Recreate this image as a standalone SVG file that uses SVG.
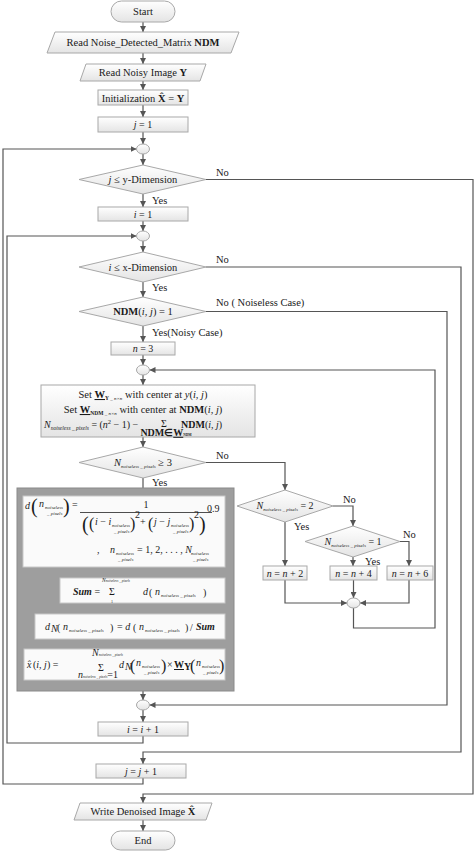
<svg xmlns="http://www.w3.org/2000/svg" width="474" height="852" viewBox="0 0 474 852">
<defs>
<linearGradient id="g" x1="0" y1="0" x2="0" y2="1"><stop offset="0" stop-color="#ffffff"/><stop offset="1" stop-color="#e4e4e4"/></linearGradient>
<marker id="a" viewBox="0 0 10 10" refX="10" refY="5" markerWidth="6" markerHeight="6" orient="auto" markerUnits="userSpaceOnUse"><path d="M0,0 L10,5 L0,10 z" fill="#555"/></marker>
<style>
.n{fill:url(#g);stroke:#a8a8a8;stroke-width:1}
.w{fill:#fafafa;stroke:#c8c8c8;stroke-width:1}
.c{fill:none;stroke:#555;stroke-width:1.2}
text{font-family:"Liberation Serif","Times New Roman",serif;font-size:10px;fill:#1a1a1a}
.l{font-size:10.5px}
.t{text-anchor:middle}
.i{font-style:italic}
.b{font-weight:bold}
.s{font-size:5px;font-style:italic}
.p{font-size:16px}
.P{font-size:20px}
</style>
</defs>
<rect width="474" height="852" fill="#ffffff"/>

<g id="connectors">
<path class="c" marker-end="url(#a)" d="M143,22V32"/>
<path class="c" marker-end="url(#a)" d="M143,53V64"/>
<path class="c" marker-end="url(#a)" d="M143,81V90"/>
<path class="c" marker-end="url(#a)" d="M143,105V117"/>
<path class="c" marker-end="url(#a)" d="M143,132V144"/>
<path class="c" marker-end="url(#a)" d="M143,154V165"/>
<path class="c" marker-end="url(#a)" d="M143,194V207"/>
<path class="c" marker-end="url(#a)" d="M143,221V231"/>
<path class="c" marker-end="url(#a)" d="M143,241V252"/>
<path class="c" marker-end="url(#a)" d="M143,282V297"/>
<path class="c" marker-end="url(#a)" d="M143,326V342"/>
<path class="c" marker-end="url(#a)" d="M143,355V365"/>
<path class="c" marker-end="url(#a)" d="M143,375V385"/>
<path class="c" marker-end="url(#a)" d="M143,437V447"/>
<path class="c" marker-end="url(#a)" d="M143,478V496"/>
<path class="c" marker-end="url(#a)" d="M143,567V578"/>
<path class="c" marker-end="url(#a)" d="M143,603V614"/>
<path class="c" marker-end="url(#a)" d="M143,639V649"/>
<path class="c" marker-end="url(#a)" d="M143,680V700"/>
<path class="c" marker-end="url(#a)" d="M143,710V722"/>
<path class="c" marker-end="url(#a)" d="M143,736V743H7V236H136.5"/>
<path class="c" marker-end="url(#a)" d="M206,267H461V752H143V764"/>
<path class="c" marker-end="url(#a)" d="M143,778V784H3V149H136.5"/>
<path class="c" marker-end="url(#a)" d="M206,179.5H473V794H143V803"/>
<path class="c" marker-end="url(#a)" d="M143,820V831"/>
<path class="c" marker-end="url(#a)" d="M206,311.5H447V705H149.5"/>
<path class="c" marker-end="url(#a)" d="M206,462.5H285V490"/>
<path class="c" marker-end="url(#a)" d="M333,506H353V526"/>
<path class="c" marker-end="url(#a)" d="M285,522V566"/>
<path class="c" marker-end="url(#a)" d="M353,557V566"/>
<path class="c" marker-end="url(#a)" d="M400,541.5H409V566"/>
<path class="c" marker-end="url(#a)" d="M285,580V603H347"/>
<path class="c" marker-end="url(#a)" d="M353.5,580V598"/>
<path class="c" marker-end="url(#a)" d="M409,580V603H360"/>
<path class="c" marker-end="url(#a)" d="M353.5,608V628H435V370H149.5"/>
<text class="l" x="216" y="176">No</text>
<text class="l" x="152" y="204">Yes</text>
<text class="l" x="216" y="263">No</text>
<text class="l" x="152" y="291">Yes</text>
<text class="l" x="216" y="306">No ( Noiseless Case)</text>
<text class="l" x="152" y="336">Yes(Noisy Case)</text>
<text class="l" x="216" y="459">No</text>
<text class="l" x="152" y="486">Yes</text>
<text class="l" x="343" y="503">No</text>
<text class="l" x="294" y="530">Yes</text>
<text class="l" x="403" y="538">No</text>
<text class="l" x="365" y="565">Yes</text>
</g>

<g id="start">
<rect class="n" x="111" y="1" width="64" height="21" rx="10.5"/>
<text class="t l" x="143" y="15">Start</text>
</g>
<g id="read-ndm">
<polygon class="n" points="55,32 239,32 231,53 47,53"/>
<text class="t l" x="143" y="46">Read Noise_Detected_Matrix <tspan class="b">NDM</tspan></text>
</g>
<g id="read-y">
<polygon class="n" points="86,64 206,64 200,81 80,81"/>
<text class="t l" x="143" y="76">Read Noisy Image <tspan class="b">Y</tspan></text>
</g>
<g id="init">
<rect class="n" x="98" y="90" width="90" height="15"/>
<text class="t l" x="143" y="101.5">Initialization <tspan class="b">X̂</tspan> = <tspan class="b">Y</tspan></text>
</g>
<g id="j1">
<rect class="n" x="98" y="117" width="90" height="15"/>
<text class="t" x="143" y="128"><tspan class="i">j</tspan> = 1</text>
</g>
<g id="merge-j">
<ellipse class="n" cx="143" cy="149" rx="6.5" ry="5"/>
</g>
<g id="cond-j">
<polygon class="n" points="143,165 206,179.5 143,194 79,179.5"/>
<text class="t l" x="143" y="183"><tspan class="i">j</tspan> ≤ y-Dimension</text>
</g>
<g id="i1">
<rect class="n" x="98" y="207" width="90" height="14"/>
<text class="t" x="143" y="218"><tspan class="i">i</tspan> = 1</text>
</g>
<g id="merge-i">
<ellipse class="n" cx="143" cy="236" rx="6.5" ry="5"/>
</g>
<g id="cond-i">
<polygon class="n" points="143,252 206,267 143,282 79,267"/>
<text class="t l" x="143" y="271"><tspan class="i">i</tspan> ≤ x-Dimension</text>
</g>
<g id="cond-ndm">
<polygon class="n" points="143,297 206,311.5 143,326 79,311.5"/>
<text class="t l" x="143" y="315"><tspan class="b">NDM</tspan>(<tspan class="i">i, j</tspan>) = 1</text>
</g>
<g id="n3">
<rect class="n" x="111" y="342" width="64" height="13"/>
<text class="t" x="143" y="352"><tspan class="i">n</tspan> = 3</text>
</g>
<g id="merge-n">
<ellipse class="n" cx="143" cy="370" rx="6.5" ry="5"/>
</g>
<g id="set-windows">
<rect class="n" x="41" y="385" width="214" height="52"/>
<text class="t l" x="143" y="398">Set <tspan class="b" text-decoration="underline">W</tspan><tspan font-size="5.5" font-weight="bold" dy="2">Y</tspan><tspan class="s"> _ n×n</tspan><tspan dy="-2"> with center at </tspan><tspan class="i">y</tspan>(<tspan class="i">i, j</tspan>)</text>
<text class="t l" x="143" y="413">Set <tspan class="b" text-decoration="underline">W</tspan><tspan font-size="5.5" font-weight="bold" dy="2">NDM</tspan><tspan class="s"> _ n×n</tspan><tspan dy="-2"> with center at </tspan><tspan class="b">NDM</tspan>(<tspan class="i">i, j</tspan>)</text>
<text x="44" y="428" font-size="11"><tspan class="i">N</tspan><tspan font-size="5.5" font-style="italic" dy="1.5">noiseless _ pixels</tspan><tspan dy="-1.5"> = (</tspan><tspan class="i">n</tspan><tspan font-size="6.5" dy="-4">2</tspan><tspan dy="4"> − 1) −</tspan></text>
<text class="t" x="164" y="426.5" font-size="12">Σ</text>
<text class="t" x="166" y="435.8" font-size="4.5" font-weight="bold">NDM∈<tspan text-decoration="underline">W</tspan><tspan font-size="3.5">NDM</tspan></text>
<text x="181" y="428" font-size="11"><tspan class="b">NDM</tspan>(<tspan class="i">i, j</tspan>)</text>
</g>
<g id="cond-n3">
<polygon class="n" points="143,447 206,462.5 143,478 79,462.5"/>
<text class="t l" x="143" y="466"><tspan class="i">N</tspan><tspan class="s" dy="1.5">noiseless _ pixels</tspan><tspan dy="-1.5"> ≥ 3</tspan></text>
</g>
<g id="weighted-filter">
<rect x="17" y="488" width="217" height="203" fill="#9e9e9e" stroke="#8a8a8a"/>
</g>
<g id="distance">
<rect class="w" x="23" y="496" width="202" height="71"/>
<text class="i" x="25" y="509" font-size="11">d</text>
<text class="P" x="31" y="513">(</text>
<text class="i" x="39" y="507">n</text>
<text class="s" x="45" y="509">noiseless</text>
<text class="s" x="47" y="515">_ pixels</text>
<text class="P" x="63" y="513">)</text>
<text x="72" y="508">=</text>
<text class="t" x="146" y="508">1</text>
<path d="M80,512.5H212" stroke="#222" stroke-width="0.8"/>
<text class="P" x="82" y="531">(</text>
<text class="p" x="89" y="529">(</text>
<text x="95" y="525"><tspan class="i">i</tspan> − <tspan class="i">i</tspan></text>
<text class="s" x="112" y="527">noiseless</text>
<text class="s" x="114" y="533">_ pixels</text>
<text class="p" x="130" y="529">)</text>
<text x="135" y="518" font-size="6">2</text>
<text x="140" y="525">+</text>
<text class="p" x="148" y="529">(</text>
<text x="154" y="525"><tspan class="i">j</tspan> − <tspan class="i">j</tspan></text>
<text class="s" x="171" y="527">noiseless</text>
<text class="s" x="173" y="533">_ pixels</text>
<text class="p" x="189" y="529">)</text>
<text x="194" y="518" font-size="6">2</text>
<text class="P" x="199" y="531">)</text>
<text x="207" y="512" font-size="6">0.9</text>
<text x="97" y="553">,</text>
<text class="i" x="110" y="553">n</text>
<text class="s" x="116" y="555">noiseless</text>
<text class="s" x="118" y="561">_ pixels</text>
<text x="137" y="553">= 1, 2, . . . , <tspan class="i">N</tspan></text>
<text class="s" x="191" y="555">noiseless</text>
<text class="s" x="193" y="561">_ pixels</text>
</g>
<g id="sum">
<rect class="w" x="60" y="578" width="165" height="25"/>
<text x="73" y="595"><tspan class="i b">Sum</tspan> =</text>
<text><tspan x="102" y="582" font-size="5.5" font-style="italic">N</tspan><tspan font-size="3.5" font-style="italic">noiseless _ pixels</tspan><tspan x="112" y="595" font-size="10" text-anchor="middle">Σ</tspan><tspan x="112" y="602.8" font-size="4" text-anchor="middle">1</tspan></text>
<text class="i" x="143" y="595">d</text>
<text x="149" y="596" font-size="13">(</text>
<text class="i" x="155" y="595">n</text>
<text class="s" x="161" y="597">noiseless _ pixels</text>
<text x="203" y="596" font-size="13">)</text>
</g>
<g id="normalize">
<rect class="w" x="35" y="614" width="190" height="25"/>
<text class="i" x="45" y="630">d</text>
<text x="51" y="632" font-size="5.5" font-style="italic">N</text>
<text x="57" y="631" font-size="13">(</text>
<text class="i" x="63" y="630">n</text>
<text class="s" x="69" y="632">noiseless _ pixels</text>
<text x="110" y="631" font-size="13">)</text>
<text x="117" y="630">= <tspan class="i">d</tspan></text>
<text x="133" y="631" font-size="13">(</text>
<text class="i" x="139" y="630">n</text>
<text class="s" x="145" y="632">noiseless _ pixels</text>
<text x="185" y="631" font-size="13">)</text>
<text x="190" y="631" font-size="13">/</text>
<text class="i b" x="196" y="630">Sum</text>
</g>
<g id="estimate">
<rect class="w" x="24" y="649" width="201" height="31"/>
<text class="i" x="27" y="668">x̂</text>
<text x="33" y="668">(<tspan class="i">i, j</tspan>) =</text>
<text class="t" x="101" y="671" font-size="17">Σ</text>
<text x="92" y="656" font-size="5.5" font-style="italic">N<tspan font-size="3.5">noiseless _ pixels</tspan></text>
<text x="78" y="678" font-size="5" font-style="italic">n<tspan font-size="3.5">noiseless _ pixels</tspan><tspan font-style="normal">=1</tspan></text>
<text class="i" x="119" y="668">d</text>
<text x="125" y="670" font-size="5.5" font-style="italic">N</text>
<text class="p" x="130" y="671">(</text>
<text class="i" x="136" y="666">n</text>
<text class="s" x="142" y="668">noiseless</text>
<text class="s" x="144" y="674">_ pixels</text>
<text class="p" x="161" y="671">)</text>
<text x="167" y="668">×</text>
<text x="174" y="668" class="b" text-decoration="underline">W</text>
<text x="184" y="670" font-size="5.5" font-weight="bold">Y</text>
<text class="p" x="190" y="671">(</text>
<text class="i" x="196" y="666">n</text>
<text class="s" x="202" y="668">noiseless</text>
<text class="s" x="203" y="674">_ pixels</text>
<text class="p" x="219" y="671">)</text>
</g>
<g id="cond-n2">
<polygon class="n" points="285,490 333,506 285,522 237,506"/>
<text class="t" x="285" y="509"><tspan class="i">N</tspan><tspan class="s" dy="1.5">noiseless _ pixels</tspan><tspan dy="-1.5"> = 2</tspan></text>
</g>
<g id="cond-n1">
<polygon class="n" points="353,526 400,541.5 353,557 305,541.5"/>
<text class="t" x="353" y="545"><tspan class="i">N</tspan><tspan class="s" dy="1.5">noiseless _ pixels</tspan><tspan dy="-1.5"> = 1</tspan></text>
</g>
<g id="n-plus-2">
<rect class="n" x="263" y="566" width="44" height="14"/>
<text class="t" x="285" y="576.5"><tspan class="i">n</tspan> = <tspan class="i">n</tspan> + 2</text>
</g>
<g id="n-plus-4">
<rect class="n" x="330" y="566" width="47" height="14"/>
<text class="t" x="353.5" y="576.5"><tspan class="i">n</tspan> = <tspan class="i">n</tspan> + 4</text>
</g>
<g id="n-plus-6">
<rect class="n" x="387" y="566" width="46" height="14"/>
<text class="t" x="410" y="576.5"><tspan class="i">n</tspan> = <tspan class="i">n</tspan> + 6</text>
</g>
<g id="merge-step">
<ellipse class="n" cx="353.5" cy="603" rx="6.5" ry="5"/>
</g>
<g id="merge-end">
<ellipse class="n" cx="143" cy="705" rx="6.5" ry="5"/>
</g>
<g id="i-inc">
<rect class="n" x="98" y="722" width="90" height="14"/>
<text class="t" x="143" y="732.5"><tspan class="i">i</tspan> = <tspan class="i">i</tspan> + 1</text>
</g>
<g id="j-inc">
<rect class="n" x="96" y="764" width="90" height="14"/>
<text class="t" x="141" y="774.5"><tspan class="i">j</tspan> = <tspan class="i">j</tspan> + 1</text>
</g>
<g id="write">
<polygon class="n" points="80,803 212,803 206,820 74,820"/>
<text class="t l" x="143" y="815">Write Denoised Image <tspan class="b">X̂</tspan></text>
</g>
<g id="end">
<rect class="n" x="111" y="831" width="64" height="19" rx="9.5"/>
<text class="t l" x="143" y="844">End</text>
</g>
</svg>
